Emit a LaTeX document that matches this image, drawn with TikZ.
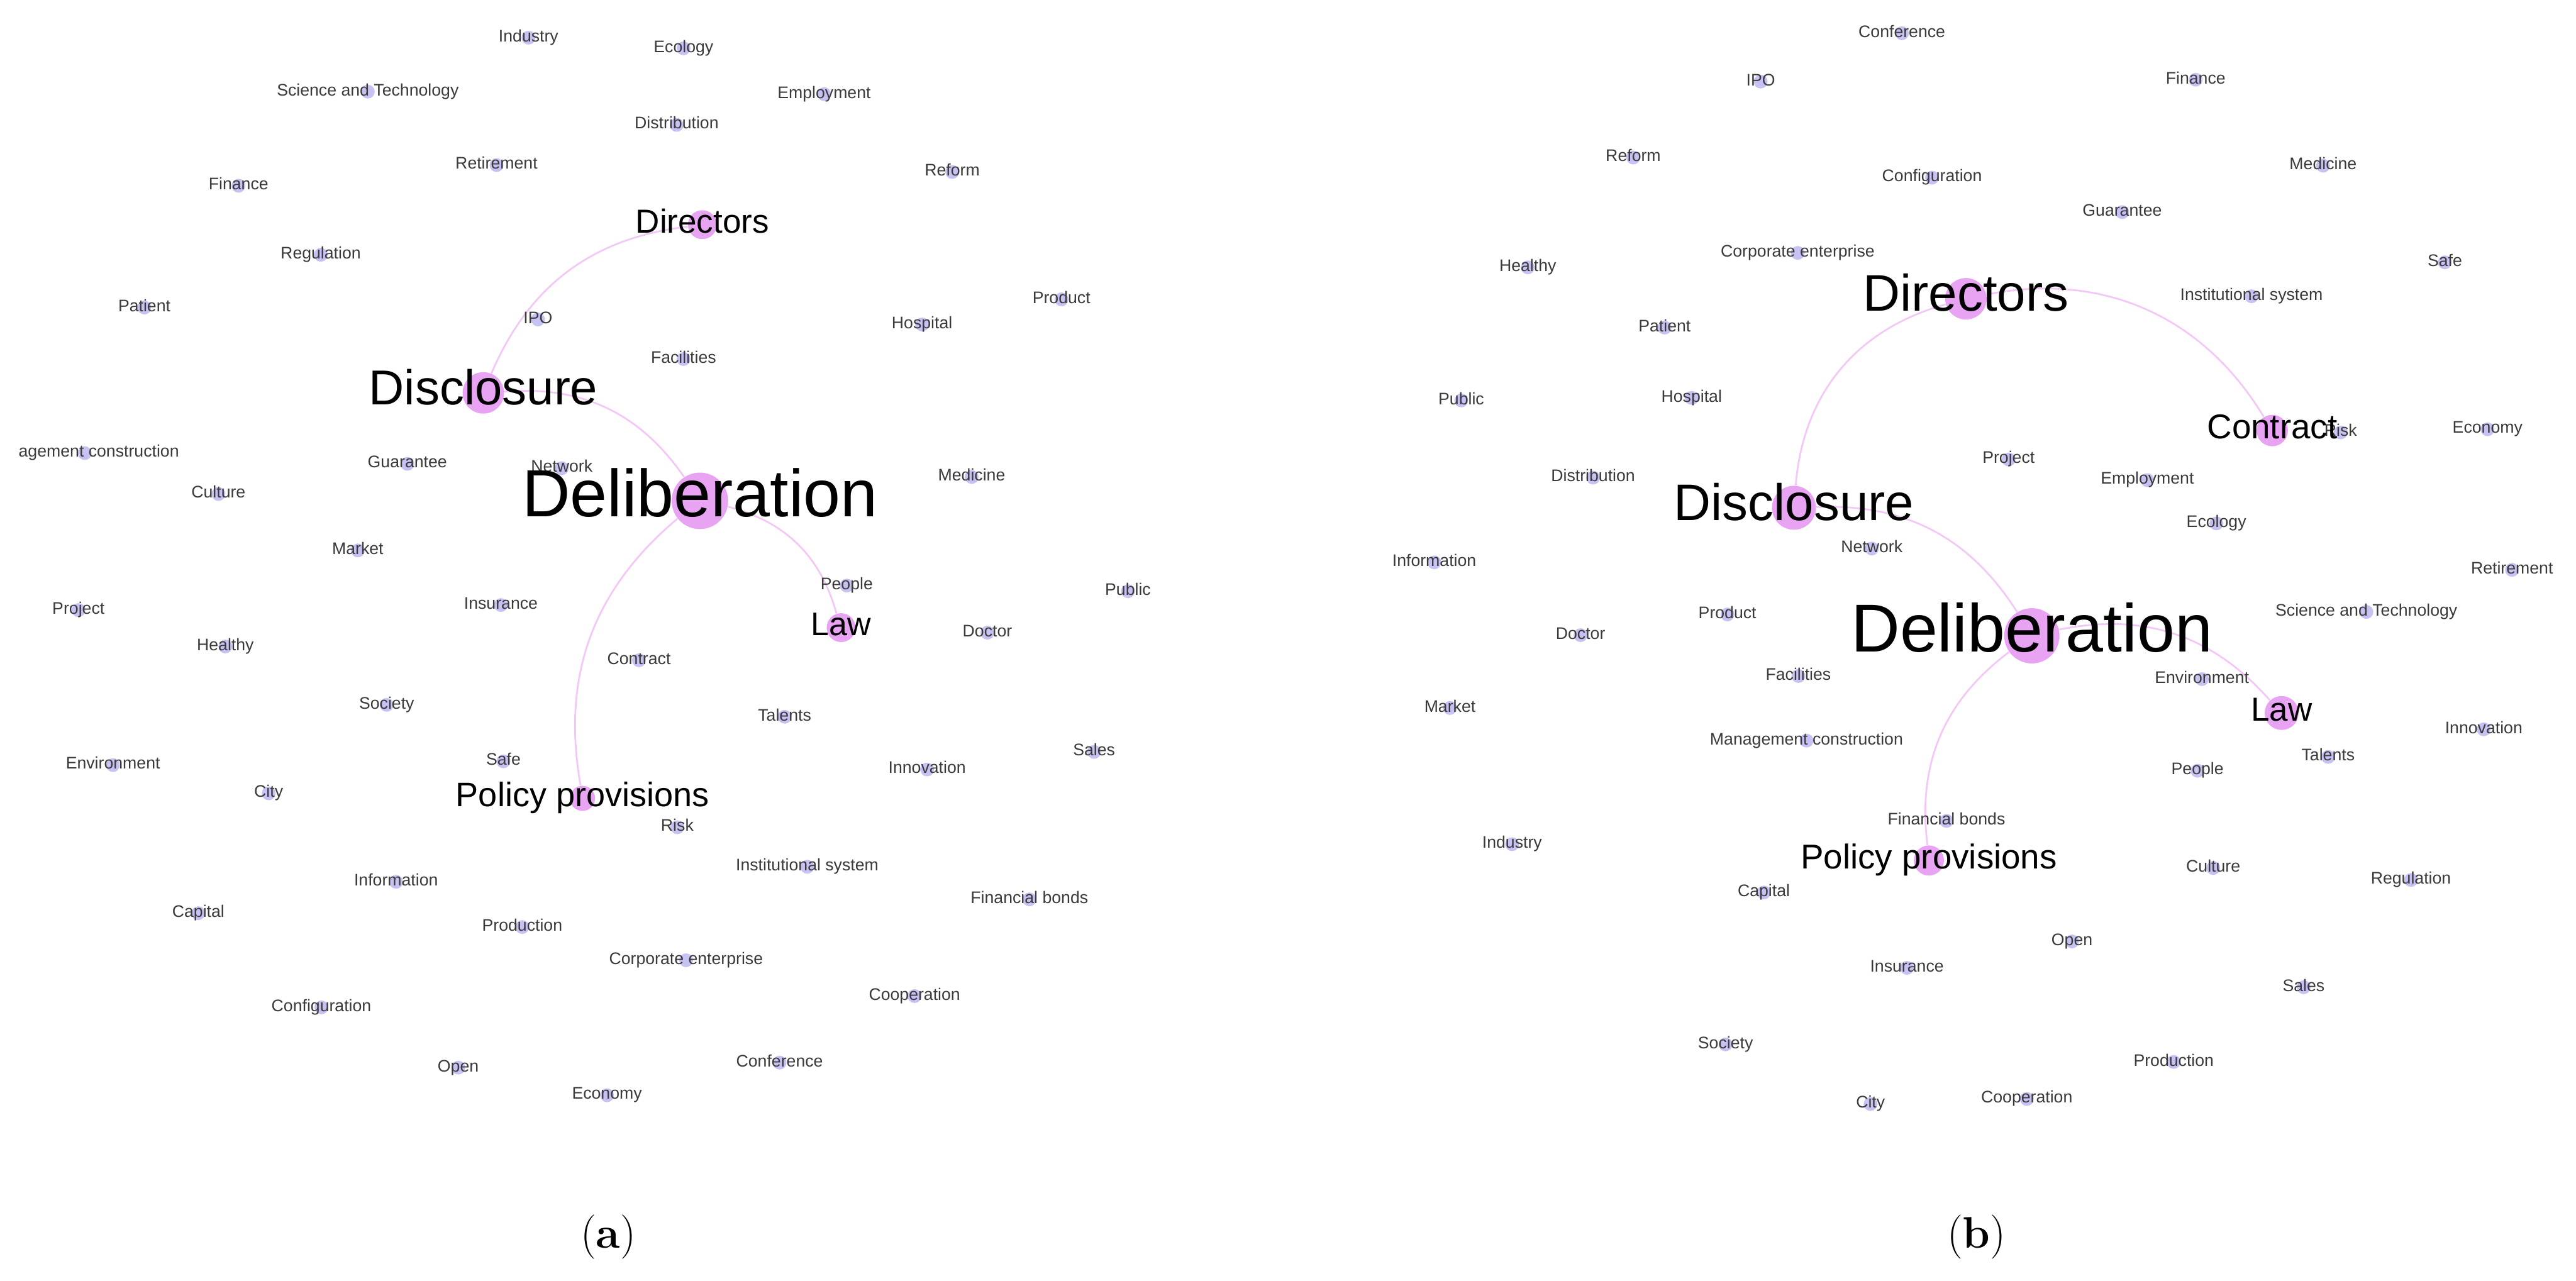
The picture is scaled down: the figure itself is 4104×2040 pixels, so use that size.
\documentclass[tikz,border=0pt]{standalone}
\usepackage{fontspec}
\newfontfamily\gephi{Liberation Sans}
\usetikzlibrary{backgrounds}
\definecolor{Orchid}{HTML}{E8A4F2}
\definecolor{Lavender}{HTML}{C6C2F3}
\definecolor{EdgePink}{HTML}{F3C8F7}
\definecolor{LabelGray}{HTML}{3A3A3A}

\begin{document}
\begin{tikzpicture}[x=0.01cm,y=-0.01cm,
    kwdot/.style={circle,inner sep=0pt,minimum size=0.22cm,fill=Lavender},
    hubdot/.style={circle,inner sep=0pt,minimum size=#1,fill=Orchid},
    kwlab/.style={inner sep=0pt,anchor=base,yshift=-1.8pt,text=LabelGray,
      font=\gephi\fontsize{7.6pt}{8pt}\selectfont},
    hublab/.style={inner sep=0pt,anchor=base,yshift={-0.24*#1pt},
      font=\gephi\fontsize{#1pt}{#1pt}\selectfont},
    link/.style={draw=EdgePink,line width=0.8pt}]
    \useasboundingbox (0,0) rectangle (4104,2040);

    % panel (a)
    \foreach \x/\y/\lab [count=\i] in {
      842/60/Industry, 1089/77/Ecology, 586/146/Science and Technology,
      1313/150/Employment, 1078/199/Distribution, 791/263/Retirement,
      1517/274/Reform, 380/296/Finance, 511/406/Regulation,
      1691/477/Product, 230/490/Patient, 857/509/IPO, 1469/517/Hospital,
      1089/572/Facilities, 649/739/Guarantee, 895/746/Network,
      1548/760/Medicine, 348/787/Culture, 570/877/Market,
      1349/933/People, 1797/942/Public, 798/964/Insurance,
      125/972/Project, 1573/1008/Doctor, 359/1030/Healthy,
      1018/1052/Contract, 616/1123/Society, 1250/1142/Talents,
      1743/1198/Sales, 802/1213/Safe, 180/1219/Environment,
      1477/1226/Innovation, 428/1264/City, 1079/1318/Risk,
      1286/1381/Institutional system, 631/1405/Information,
      1640/1433/Financial bonds, 316/1455/Capital, 832/1477/Production,
      1093/1530/Corporate enterprise, 1457/1587/Cooperation,
      512/1605/Configuration, 1242/1693/Conference, 730/1701/Open,
      967/1745/Economy}
      {
        \node[kwdot] (a\i) at (\x,\y) {};
        \node[kwlab] (a\i-t) at (a\i) {\lab};
      }
    \node[kwdot] (aMan) at (135,722) {};
    \node[kwlab,anchor=base west] (aMan-t) at (29,722) {agement construction};

    \node[hubdot=0.90cm] (aDel) at (1115,798) {};
    \node[hubdot=0.66cm] (aDis) at (770,626) {};
    \node[hubdot=0.46cm] (aDir) at (1119,358) {};
    \node[hubdot=0.46cm] (aLaw) at (1340,1000) {};
    \node[hubdot=0.40cm] (aPol) at (928,1272) {};
    \node[hublab=30.2] (aDel-t) at (aDel) {Deliberation};
    \node[hublab=22.2] (aDis-t) at (aDis) {Disclosure};
    \node[hublab=15.1] (aDir-t) at (aDir) {Directors};
    \node[hublab=14.8] (aLaw-t) at (aLaw) {Law};
    \node[hublab=15.4] (aPol-t) at (aPol) {Policy provisions};

    \begin{scope}[on background layer]
      \draw[link] (aDir) to[bend right=30] (aDis);
      \draw[link] (aDis) to[bend left=30] (aDel);
      \draw[link] (aDel) to[bend right=30] (aPol);
      \draw[link] (aDel) to[bend left=30] (aLaw);
    \end{scope}

    \node[font=\fontsize{20pt}{24pt}\selectfont] (capA) at (969,1971)
      {(\textbf{a})};

    % panel (b)
    \foreach \x/\y/\lab [count=\i] in {
      3030/53/Conference, 3498/127/Finance, 2805/130/IPO, 2602/251/Reform,
      3701/264/Medicine, 3078/283/Configuration, 3381/338/Guarantee,
      2864/403/Corporate enterprise, 3895/418/Safe, 2434/426/Healthy,
      3587/472/Institutional system, 2652/522/Patient, 2695/634/Hospital,
      2328/638/Public, 3963/684/Economy, 3729/689/Risk, 3200/732/Project,
      2538/761/Distribution, 3421/765/Employment, 3531/834/Ecology,
      2982/874/Network, 2285/896/Information, 4002/908/Retirement,
      3770/975/Science and Technology, 2752/979/Product, 2518/1012/Doctor,
      2865/1077/Facilities, 3508/1082/Environment, 2310/1128/Market,
      3957/1162/Innovation, 2878/1180/Management construction,
      3709/1206/Talents, 3501/1228/People, 3101/1308/Financial bonds,
      2409/1345/Industry, 3526/1383/Culture, 3841/1402/Regulation,
      2810/1422/Capital, 3301/1500/Open, 3038/1542/Insurance,
      3670/1573/Sales, 2749/1664/Society, 3463/1692/Production,
      3229/1751/Cooperation, 2980/1759/City}
      {
        \node[kwdot] (b\i) at (\x,\y) {};
        \node[kwlab] (b\i-t) at (b\i) {\lab};
      }

    \node[hubdot=0.66cm] (bDir) at (3132,476) {};
    \node[hubdot=0.70cm] (bDis) at (2858,809) {};
    \node[hubdot=0.88cm] (bDel) at (3237,1013) {};
    \node[hubdot=0.50cm] (bCon) at (3620,686) {};
    \node[hubdot=0.54cm] (bLaw) at (3635,1136) {};
    \node[hubdot=0.48cm] (bPol) at (3073,1371) {};
    \node[hublab=23.3] (bDir-t) at (bDir) {Directors};
    \node[hublab=23.3] (bDis-t) at (bDis) {Disclosure};
    \node[hublab=30.7] (bDel-t) at (bDel) {Deliberation};
    \node[hublab=15.6] (bCon-t) at (bCon) {Contract};
    \node[hublab=15.1] (bLaw-t) at (bLaw) {Law};
    \node[hublab=15.6] (bPol-t) at (bPol) {Policy provisions};

    \begin{scope}[on background layer]
      \draw[link] (bDir) to[bend left=35] (bCon);
      \draw[link] (bDir) to[bend right=35] (bDis);
      \draw[link] (bDis) to[bend left=30] (bDel);
      \draw[link] (bDel) to[bend left=30] (bLaw);
      \draw[link] (bDel) to[bend right=30] (bPol);
    \end{scope}

    \node[font=\fontsize{20pt}{24pt}\selectfont] (capB) at (3149,1971)
      {(\textbf{b})};
  \end{tikzpicture}
\end{document}
